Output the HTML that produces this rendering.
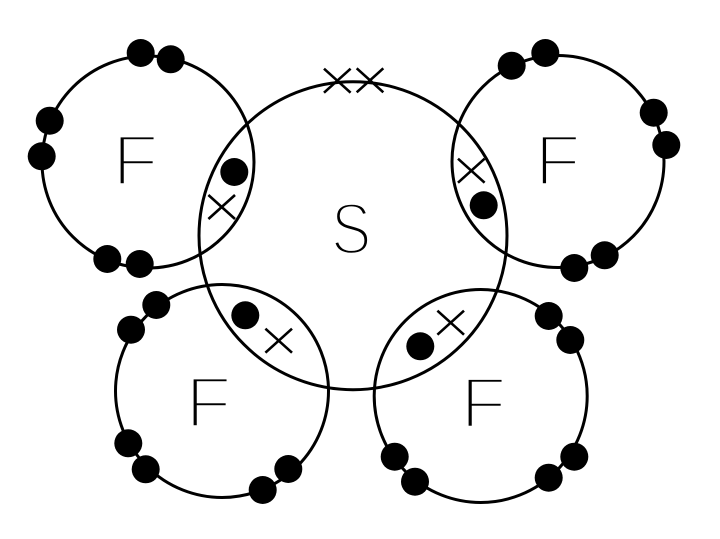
<!DOCTYPE html>
<html>
<head>
<meta charset="utf-8">
<style>
html,body{margin:0;padding:0;background:#fff}
svg{display:block}
text{font-family:"Liberation Sans",sans-serif;fill:#000;stroke:#fff;stroke-width:3.6px;paint-order:normal}
</style>
</head>
<body>
<svg width="720" height="539" viewBox="0 0 720 539" xmlns="http://www.w3.org/2000/svg">
<rect width="720" height="539" fill="#fff"/>
<g font-size="71">
<text transform="translate(112.5 185) scale(1.06 1)">F</text>
<text transform="translate(534.8 185) scale(1.06 1)">F</text>
<text transform="translate(185.5 427) scale(1.06 1)">F</text>
<text transform="translate(460.5 427.5) scale(1.06 1)">F</text>
</g>
<text transform="translate(331 254) scale(0.84 1)" font-size="72" style="stroke-width:3.4px">S</text>
<g fill="none" stroke="#000" stroke-width="3">
<circle cx="148" cy="162" r="106"/>
<circle cx="558" cy="161.5" r="106"/>
<circle cx="222" cy="391" r="106.5"/>
<circle cx="480.7" cy="396" r="106.5"/>
<circle cx="353" cy="235.7" r="154"/>
</g>
<g fill="#000">
<circle cx="140.7" cy="53" r="14"/>
<circle cx="170.7" cy="59.3" r="14"/>
<circle cx="49.7" cy="120.7" r="14"/>
<circle cx="41.7" cy="156.3" r="14"/>
<circle cx="107.3" cy="259" r="14"/>
<circle cx="139.7" cy="264" r="14"/>
<circle cx="234.3" cy="172" r="14"/>
<circle cx="511.7" cy="65.7" r="14"/>
<circle cx="545.3" cy="53" r="14"/>
<circle cx="653.7" cy="112.7" r="14"/>
<circle cx="666.3" cy="145" r="14"/>
<circle cx="604.7" cy="255.3" r="14"/>
<circle cx="574.3" cy="268" r="14"/>
<circle cx="483.7" cy="205.3" r="14"/>
<circle cx="156.3" cy="305" r="14"/>
<circle cx="131" cy="329.7" r="14"/>
<circle cx="128.3" cy="443.3" r="14"/>
<circle cx="145.7" cy="469.3" r="14"/>
<circle cx="288.3" cy="469" r="14"/>
<circle cx="262.7" cy="490" r="14"/>
<circle cx="245.3" cy="315.3" r="14"/>
<circle cx="548.7" cy="316" r="14"/>
<circle cx="570.3" cy="340" r="14"/>
<circle cx="394.7" cy="456.7" r="14"/>
<circle cx="415" cy="481.7" r="14"/>
<circle cx="574.3" cy="456.7" r="14"/>
<circle cx="548.7" cy="477.7" r="14"/>
<circle cx="420.3" cy="346.3" r="14"/>
</g>
<g fill="none" stroke="#000" stroke-width="2.6">
<path d="M208.4 219 L235 195 M208.4 195 L235 219"/>
<path d="M458 182.7 L484.6 158.7 M458 158.7 L484.6 182.7"/>
<path d="M265.4 352.7 L292 328.7 M265.4 328.7 L292 352.7"/>
<path d="M437.4 334.7 L464 310.7 M437.4 310.7 L464 334.7"/>
<path d="M324 92.7 L350.6 68.7 M324 68.7 L350.6 92.7"/>
<path d="M356.7 92.3 L383.3 68.3 M356.7 68.3 L383.3 92.3"/>
</g>
</svg>
</body>
</html>
